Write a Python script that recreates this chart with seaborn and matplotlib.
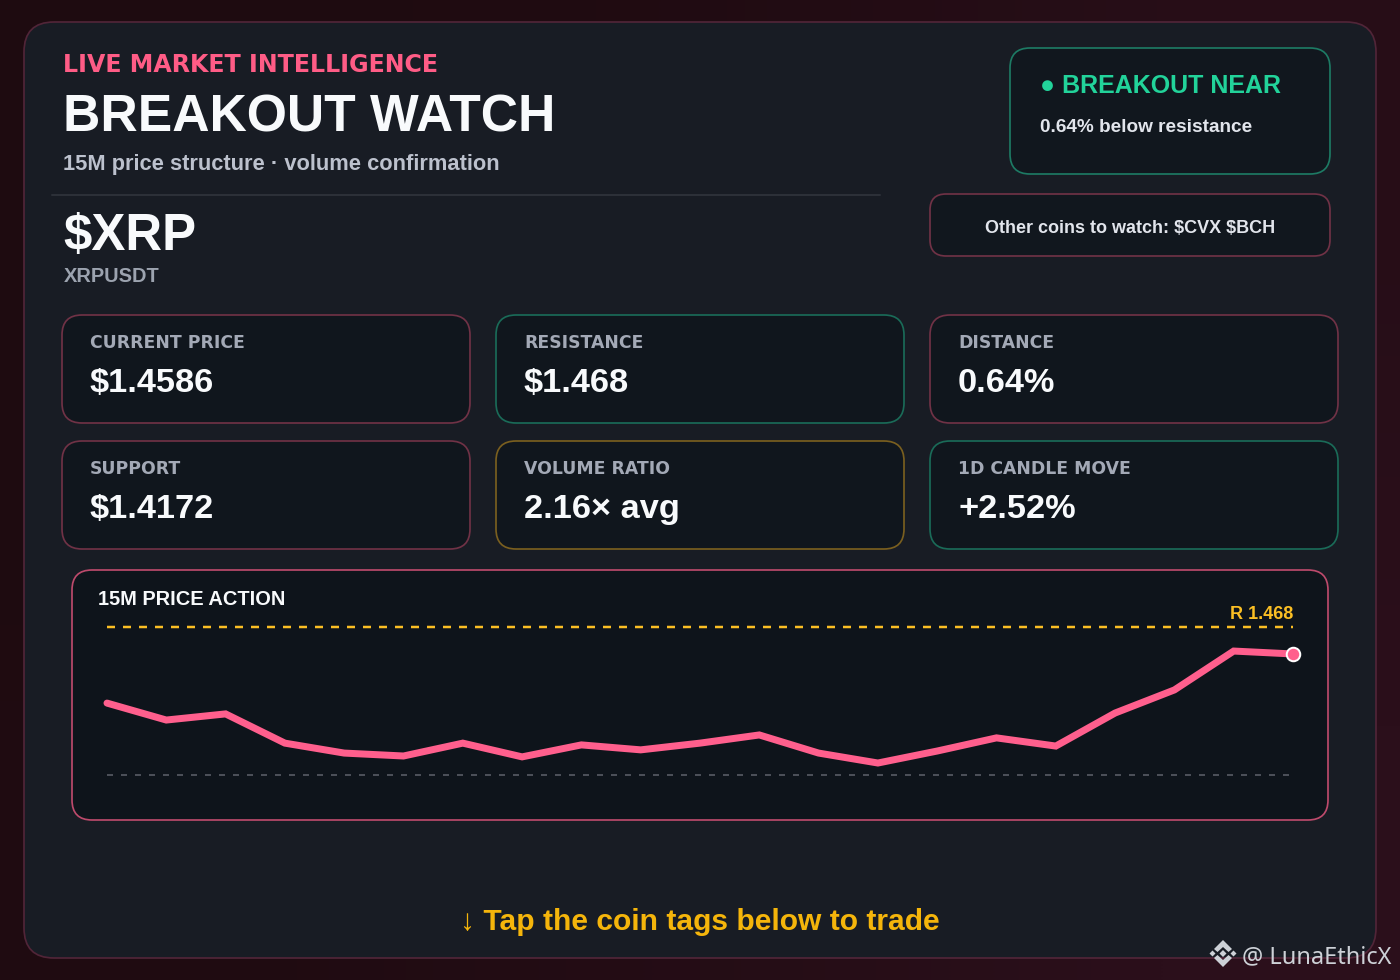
import numpy as np
import pandas as pd
import seaborn as sns
import matplotlib.pyplot as plt
from matplotlib.patches import FancyBboxPatch, Polygon

# values
prices = [1.4418, 1.4360, 1.4381, 1.4281, 1.4247, 1.4237, 1.4281, 1.4234, 1.4275, 1.4258, 1.4281,
          1.4309, 1.4247, 1.4213, 1.4254, 1.4299, 1.4271, 1.4384, 1.4463, 1.4596, 1.4586]
resistance = 1.468
support = 1.4172

card_labels = ["CURRENT PRICE", "RESISTANCE", "DISTANCE", "SUPPORT", "VOLUME RATIO", "1D CANDLE MOVE"]
card_values = ["$1.4586", "$1.468", "0.64%", "$1.4172", "2.16× avg", "+2.52%"]
card_edges = ["#703246", "#1a6b58", "#703246", "#703246", "#7a5f1f", "#1a6b58"]

SANS = ["Liberation Sans", "DejaVu Sans"]
WIDE = ["DejaVu Sans"]
PX = 0.72  # px to pt at dpi 100

sns.set_theme(style="dark")
plt.rcParams["font.family"] = SANS

fig = plt.figure(figsize=(14, 9.8), dpi=100)

# page layer in pixel coordinates
page = fig.add_axes([0, 0, 1, 1])
page.imshow([[0.0, 0.2, 0.7], [0.1, 0.5, 1.0]], extent=(0, 1400, 980, 0), aspect="auto",
            cmap=sns.blend_palette(["#1e0b10", "#2b0f1b"], as_cmap=True), interpolation="bilinear", zorder=0)
page.set_xlim(0, 1400)
page.set_ylim(980, 0)
page.axis("off")


def box(x0, y0, x1, y1, r, face, edge, lw=1.7):
    page.add_patch(FancyBboxPatch((x0 + r, y0 + r), x1 - x0 - 2 * r, y1 - y0 - 2 * r,
                                  boxstyle=f"round,pad={r},rounding_size={r}",
                                  fc=face, ec=edge, lw=lw * PX, zorder=1))


def label(x, y, s, px, color, ha="left", family=SANS, weight="bold", zorder=3):
    page.text(x, y, s, fontsize=px * PX, color=color, ha=ha, va="baseline",
              family=family, weight=weight, zorder=zorder, parse_math=False)


box(24, 22, 1376, 958, 30, "#181c24", "#512538")

# header
label(63, 72, "LIVE MARKET INTELLIGENCE", 23.7, "#ff5c86", family=WIDE)
label(63, 132, "BREAKOUT WATCH", 51.6, "#f8fafc")
label(63, 170, "15M price structure · volume confirmation", 21.9, "#bcc1cd")
page.plot([52, 880], [195, 195], color="#2c3038", lw=2 * PX, zorder=2)
label(63, 250, "$XRP", 51, "#f8fafc")
label(64, 282, "XRPUSDT", 20, "#9ca3af")

box(1010, 48, 1330, 174, 20, "#11171e", "#1d7a64")
label(1040, 93, "● BREAKOUT NEAR", 25, "#22d39a")
label(1040, 132, "0.64% below resistance", 19, "#e2e5ec")

box(930, 194, 1330, 256, 16, "#11171e", "#703246")
label(1130, 233, "Other coins to watch: $CVX $BCH", 18, "#e2e5ec", ha="center")

# stat cards
col_x = [62, 496, 930]
row_y = [315, 441]
for i in range(6):
    cx = col_x[i % 3]
    cy = row_y[i // 3]
    box(cx, cy, cx + 408, cy + 108, 20, "#10161d", card_edges[i])
    label(cx + 28, cy + 33, card_labels[i], 17.2, "#a3a9b6", family=WIDE)
    label(cx + 28, cy + 77, card_values[i], 34.4, "#f8fafc")

# price chart panel
box(72, 570, 1328, 820, 20, "#0e141b", "#bd4a6c")
label(98, 605, "15M PRICE ACTION", 20, "#f8fafc")
label(1293, 619, "R 1.468", 18, "#fbbf24", ha="right")

df = pd.DataFrame({"bar": np.arange(len(prices)), "price": prices})

ax = fig.add_axes([107 / 1400, 1 - 775 / 980, (1293 - 107) / 1400, (775 - 626.5) / 980])
ax.patch.set_alpha(0)
ax.set_zorder(page.get_zorder() + 1)
ax.hlines(resistance, 0, len(prices) - 1, color="#fbbf24", lw=2.5 * PX,
          linestyles=(0, (8 / 2.5, 8 / 2.5)), clip_on=False)
ax.hlines(support, 0, len(prices) - 1, color="#565a63", lw=1.7 * PX,
          linestyles=(0, (6 / 1.7, 8 / 1.7)), clip_on=False)
sns.lineplot(data=df, x="bar", y="price", ax=ax, color="#ff5f8d", linewidth=7 * PX, clip_on=False,
             solid_joinstyle="miter", solid_capstyle="round", errorbar=None)
sns.scatterplot(data=df.tail(1), x="bar", y="price", ax=ax, s=(13.5 * PX) ** 2, color="#ff5f8d",
                edgecolor="white", linewidth=2 * PX, clip_on=False, zorder=5)
ax.set_xlim(0, len(prices) - 1)
ax.set_ylim(support, resistance)
ax.axis("off")

# footer
label(700, 930, "↓ Tap the coin tags below to trade", 30, "#f5b50b", ha="center")

# watermark
wm = "#cdd1d7"
label(1242, 963, "@ LunaEthicX", 23.6, wm, family=["Noto Sans"], weight="normal", zorder=6)
for pts in ([(1223, 940), (1232, 949), (1228.5, 952), (1223, 947), (1217.5, 952), (1214, 949)],
            [(1223, 967), (1232, 958), (1228.5, 955), (1223, 960), (1217.5, 955), (1214, 958)],
            [(1223, 950), (1226.5, 953.5), (1223, 957), (1219.5, 953.5)],
            [(1212.5, 950.5), (1215.5, 953.5), (1212.5, 956.5), (1209.5, 953.5)],
            [(1233.5, 950.5), (1236.5, 953.5), (1233.5, 956.5), (1230.5, 953.5)]):
    page.add_patch(Polygon(pts, closed=True, fc=wm, ec="none", zorder=6))

fig.savefig("out.png", dpi=100)
